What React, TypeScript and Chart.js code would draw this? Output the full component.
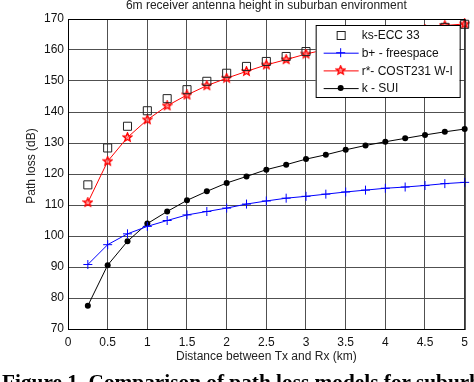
import React, { useEffect, useRef } from 'react';
import { Chart, registerables } from 'chart.js';

Chart.register(...registerables);

// ---------- data ----------
const distances = [0.25, 0.5, 0.75, 1, 1.25, 1.5, 1.75, 2, 2.25, 2.5, 2.75, 3, 3.25, 3.5, 3.75, 4, 4.25, 4.5, 4.75, 5];
const ecc33 = [116.5, 128.4, 135.4, 140.4, 144.3, 147.2, 149.9, 152.5, 154.7, 156.3, 157.9, 159.5, 160.9, 162.1, 163.3, 164.4, 165.4, 166.4, 167.3, 168.3];
const freespace = [90.8, 97.2, 100.7, 103.1, 105.0, 106.8, 107.9, 109.0, 110.3, 111.3, 112.2, 112.8, 113.5, 114.2, 114.8, 115.4, 115.8, 116.3, 116.9, 117.3];
const cost231 = [110.8, 124.1, 131.8, 137.5, 142.0, 145.5, 148.5, 150.9, 153.1, 155.2, 156.9, 158.7, 160.2, 161.6, 162.9, 164.2, 165.4, 166.5, 167.9, 168.4];
const sui = [77.5, 90.6, 98.3, 104.0, 107.9, 111.5, 114.4, 117.1, 119.2, 121.4, 123.0, 124.8, 126.2, 127.8, 129.2, 130.4, 131.5, 132.6, 133.6, 134.5];
const xTicks = [0, 0.5, 1, 1.5, 2, 2.5, 3, 3.5, 4, 4.5, 5];
const yTicks = [70, 80, 90, 100, 110, 120, 130, 140, 150, 160, 170];
const legendLabels = ['ks-ECC 33', 'b+ - freespace', 'r*- COST231 W-I', 'k - SUI'];
const titleText = '6m receiver antenna height in suburban environment';
const xTitle = 'Distance between Tx and Rx (km)';
const yTitle = 'Path loss (dB)';
const captionText = 'Figure 1. Comparison of path loss models for suburban environment';

const FONT = '"Liberation Sans", Arial, Helvetica, sans-serif';

function makeStar(size: number): HTMLCanvasElement {
  const c = document.createElement('canvas');
  c.width = size;
  c.height = size;
  const ctx = c.getContext('2d')!;
  const cx = size / 2, cy = size / 2;
  const R = size / 2 - 1, r = R * 0.45;
  ctx.beginPath();
  for (let i = 0; i < 10; i++) {
    const a = -Math.PI / 2 + (i * Math.PI) / 5;
    const rad = i % 2 === 0 ? R : r;
    ctx.lineTo(cx + rad * Math.cos(a), cy + rad * Math.sin(a));
  }
  ctx.closePath();
  ctx.fillStyle = 'rgba(255,140,140,0.7)';
  ctx.fill();
  ctx.strokeStyle = '#ff0000';
  ctx.lineWidth = 1.4;
  ctx.stroke();
  return c;
}

const pts = (ys: number[]) => distances.map((d, i) => ({ x: d, y: ys[i] }));

export default function App() {
  const ref = useRef<HTMLCanvasElement | null>(null);

  useEffect(() => {
    if (!ref.current) return;
    const star = makeStar(11);

    const drawMarker = (ctx: CanvasRenderingContext2D, kind: number, x: number, y: number) => {
      ctx.save();
      if (kind === 0) {
        ctx.strokeStyle = '#222';
        ctx.lineWidth = 1;
        ctx.strokeRect(x - 3.5, y - 3.5, 8, 8);
      } else if (kind === 1) {
        ctx.strokeStyle = '#0000ff';
        ctx.lineWidth = 1;
        ctx.beginPath();
        ctx.moveTo(x - 4.5, y); ctx.lineTo(x + 4.5, y);
        ctx.moveTo(x, y - 4.5); ctx.lineTo(x, y + 4.5);
        ctx.stroke();
      } else if (kind === 2) {
        ctx.drawImage(star, x - star.width / 2, y - star.height / 2);
      } else {
        ctx.fillStyle = '#000';
        ctx.beginPath();
        ctx.arc(x, y, 3, 0, Math.PI * 2);
        ctx.fill();
      }
      ctx.restore();
    };

    const lineColors = ['', '#0000ff', '#ff0000', '#000000'];

    const decor = {
      id: 'decor',
      afterDatasetsDraw(chart: any) {
        const { ctx, chartArea } = chart;
        const { top, right } = chartArea;
        // legend box
        const lx = right - 149, ly = top + 6, lw = 144, lh = 72;
        ctx.save();
        ctx.fillStyle = '#fff';
        ctx.fillRect(lx, ly, lw, lh);
        ctx.strokeStyle = '#000';
        ctx.lineWidth = 1;
        ctx.strokeRect(lx + 0.5, ly + 0.5, lw, lh);
        ctx.font = `12px ${FONT}`;
        ctx.textBaseline = 'middle';
        ctx.textAlign = 'left';
        legendLabels.forEach((lab, i) => {
          const yy = ly + 10 + i * 17.7;
          if (i > 0) {
            ctx.strokeStyle = lineColors[i];
            ctx.lineWidth = 1;
            ctx.beginPath();
            ctx.moveTo(lx + 8, yy + 0.5);
            ctx.lineTo(lx + 43, yy + 0.5);
            ctx.stroke();
          }
          drawMarker(ctx, i, lx + 25, yy);
          ctx.fillStyle = '#111';
          ctx.fillText(lab, lx + 46, yy + 1);
        });
        ctx.restore();
      },
      afterDraw(chart: any) {
        const { ctx, chartArea } = chart;
        const { left, top, right, bottom } = chartArea;
        ctx.save();
        ctx.strokeStyle = '#000';
        ctx.lineWidth = 1;
        ctx.strokeRect(left + 0.5, top + 0.5, right - left, bottom - top);
        ctx.fillStyle = '#222';
        ctx.font = `12px ${FONT}`;
        ctx.textAlign = 'center';
        ctx.textBaseline = 'middle';
        const cx = (left + right) / 2;
        ctx.fillText(titleText, cx, top - 13);
        ctx.fillText(xTitle, cx, bottom + 28);
        ctx.translate(left - 36, (top + bottom) / 2 - 8);
        ctx.rotate(-Math.PI / 2);
        ctx.fillText(yTitle, 0, 0);
        ctx.restore();
      },
    };

    const chart = new Chart(ref.current, {
      type: 'line',
      data: {
        datasets: [
          {
            label: legendLabels[0],
            data: pts(ecc33),
            showLine: false,
            pointStyle: 'rect',
            pointRadius: 5.7,
            borderColor: '#222',
            backgroundColor: 'rgba(0,0,0,0)',
            pointBorderWidth: 1,
            clip: false as any,
          },
          {
            label: legendLabels[1],
            data: pts(freespace),
            borderColor: '#0000ff',
            borderWidth: 1,
            pointStyle: 'cross',
            pointRadius: 4.5,
            pointBorderWidth: 1,
            pointBorderColor: '#0000ff',
            tension: 0,
            clip: false as any,
          },
          {
            label: legendLabels[2],
            data: pts(cost231),
            borderColor: '#ff0000',
            borderWidth: 1,
            pointStyle: star as any,
            pointRadius: 5,
            tension: 0,
            clip: false as any,
          },
          {
            label: legendLabels[3],
            data: pts(sui),
            borderColor: '#000000',
            borderWidth: 1,
            pointStyle: 'circle',
            pointRadius: 3,
            pointBackgroundColor: '#000',
            pointBorderColor: '#000',
            pointBorderWidth: 0,
            tension: 0,
            clip: false as any,
          },
        ],
      },
      options: {
        animation: false,
        responsive: false,
        devicePixelRatio: 1,
        layout: { padding: { left: 0, right: 8, top: 19, bottom: 0 } },
        plugins: {
          legend: { display: false },
          title: { display: false },
          tooltip: { enabled: false },
        },
        elements: { point: { hoverRadius: 0 } },
        scales: {
          x: {
            type: 'linear',
            min: 0,
            max: 5,
            afterBuildTicks: (s: any) => { s.ticks = xTicks.map((v) => ({ value: v })); },
            afterFit: (s: any) => { s.height = 53; },
            ticks: {
              font: { family: FONT, size: 12 },
              color: '#111',
              padding: 6,
              maxRotation: 0,
              autoSkip: false,
              callback: (v: any) => String(v),
            },
            grid: { color: '#505050', lineWidth: 1, drawTicks: false },
            border: { display: true, color: '#000' },
          },
          y: {
            type: 'linear',
            min: 70,
            max: 170,
            afterBuildTicks: (s: any) => { s.ticks = yTicks.map((v) => ({ value: v })); },
            afterFit: (s: any) => { s.width = 68; },
            ticks: {
              font: { family: FONT, size: 12 },
              color: '#111',
              padding: 4,
              autoSkip: false,
              callback: (v: any) => String(v),
            },
            grid: { color: '#505050', lineWidth: 1, drawTicks: false },
            border: { display: true, color: '#000' },
          },
        },
      },
      plugins: [decor],
    });
    return () => chart.destroy();
  }, []);

  return (
    <div style={{ position: 'absolute', left: 0, top: 0, width: 474, height: 382, overflow: 'hidden', background: '#fff' }}>
      <canvas ref={ref} width={474} height={382} style={{ position: 'absolute', left: 0, top: 0 }} />
      <div
        style={{
          position: 'absolute',
          left: 2,
          top: 371,
          fontFamily: '"Liberation Serif", "Times New Roman", serif',
          fontWeight: 'bold',
          fontSize: 21.3,
          lineHeight: '22px',
          whiteSpace: 'nowrap',
          color: '#000',
        }}
      >
        {captionText}
      </div>
    </div>
  );
}
